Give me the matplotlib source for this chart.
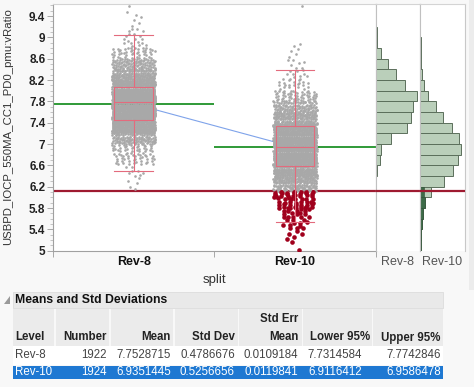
import numpy as np
import matplotlib
matplotlib.use('Agg')
import matplotlib.pyplot as plt
from matplotlib.patches import Rectangle, Polygon
from matplotlib.ticker import MultipleLocator

plt.rcParams['font.family'] = ['Liberation Sans', 'DejaVu Sans']

# ---------------- data ----------------
groups = ['Rev-8', 'Rev-10']
bin_lo = [5.0, 5.2, 5.4, 5.6, 5.8, 6.0, 6.2, 6.4, 6.6, 6.8, 7.0, 7.2,
          7.4, 7.6, 7.8, 8.0, 8.2, 8.4, 8.6, 8.8, 9.0, 9.2, 9.4]
bin_w = 0.2
rev8_counts = [0, 0, 0, 0, 0, 1, 4, 8, 33, 44, 120, 246,
               281, 295, 325, 232, 164, 96, 44, 14, 8, 4, 3]
rev10_counts = [2, 5, 12, 19, 30, 76, 161, 226, 260, 279, 267, 221,
                157, 106, 53, 23, 12, 7, 4, 2, 0, 0, 1]
rev10_selected = [2, 5, 12, 19, 30, 23, 0, 0, 0, 0, 0, 0,
                  0, 0, 0, 0, 0, 0, 0, 0, 0, 0, 0]
rev8_selected = [0] * len(bin_lo)

spec_limit = 6.11
means = [7.7528715, 6.9351445]
box_q1 = [7.45, 6.59]
box_med = [7.78, 6.95]
box_q3 = [8.07, 7.33]
box_whislo = [6.49, 5.54]
box_whishi = [9.05, 8.39]

yticks = [5, 5.4, 5.8, 6.2, 6.6, 7, 7.4, 7.8, 8.2, 8.6, 9, 9.4]
ytick_labels = ['5', '5.4', '5.8', '6.2', '6.6', '7', '7.4', '7.8', '8.2', '8.6', '9', '9.4']
ylabel = 'USBPD_IOCP_550MA_CC1_PD0_pmu:vRatio'

tbl_title = 'Means and Std Deviations'
tbl_levels = ['Rev-8', 'Rev-10']
tbl_number = ['1922', '1924']
tbl_mean = ['7.7528715', '6.9351445']
tbl_std = ['0.4786676', '0.5256656']
tbl_sem = ['0.0109184', '0.0119841']
tbl_low = ['7.7314584', '6.9116412']
tbl_up = ['7.7742846', '6.9586478']

# ---------------- figure ----------------
W, H = 474, 387
fig = plt.figure(figsize=(W / 100, H / 100), dpi=100, facecolor='#f8f8f8')


def px_axes(x0, y0, x1, y1, **kw):
    return fig.add_axes([x0 / W, 1 - y1 / H, (x1 - x0) / W, (y1 - y0) / H], **kw)


# overlay for decorations / table (pixel coordinates)
tb = fig.add_axes([0, 0, 1, 1], zorder=0)
tb.set_xlim(0, W)
tb.set_ylim(H, 0)
tb.axis('off')
tb.patch.set_alpha(0)
tb.add_patch(Rectangle((469, 0), 5, 290, fc='#ececec', ec='none'))

TOP, BOT = 4, 250.7
X0, X1, X2, X3 = 53, 375.7, 420.3, 464.6
ax = px_axes(X0, TOP, X1, BOT, zorder=2)
h1 = px_axes(X1, TOP, X2, BOT, zorder=2)
h2 = px_axes(X2, TOP, X3, BOT, zorder=2)
YMIN, YMAX = 5, 9.625

# ---- main plot ----
ax.set_xlim(-0.5, 1.5)
ax.set_ylim(YMIN, YMAX)
ax.set_facecolor('white')

grey_pt = '#a8a8a8'
red_pt = '#a0001c'
phi1, phi2 = 0.7548776662, 0.5698402910
for gi, (counts, sel) in enumerate([(rev8_counts, rev8_selected), (rev10_counts, rev10_selected)]):
    xs, ys = [], []
    k = 0
    for bi, (lo, c, s) in enumerate(zip(bin_lo, counts, sel)):
        if 0 < s < c:
            segs = [(lo, spec_limit, s), (spec_limit, lo + bin_w, c - s)]
        else:
            segs = [(lo, lo + bin_w, c)]
        width = 0.135 * min(1.0, 0.3 + c / 50.0)
        for a, b, n in segs:
            for j in range(n):
                k += 1
                u = (k * phi1 + 0.31 * gi) % 1.0
                v = (k * phi2 + 0.17 * gi) % 1.0
                # values recorded with limited resolution
                ys.append(round((a + (b - a) * u) / 0.02) * 0.02)
                xs.append(gi + (v - 0.5) * 2 * width)
    xs = np.array(xs)
    ys = np.array(ys)
    low = ys < spec_limit
    ax.scatter(xs[~low], ys[~low], s=3.6, c=grey_pt, linewidths=0, zorder=3)
    ax.scatter(xs[low], ys[low], s=11, c=red_pt, linewidths=0, zorder=3.5)

# mean lines
for gi, m in enumerate(means):
    ax.hlines(m, gi - 0.5, gi + 0.5, colors='#2f9a37', lw=1.4, zorder=2)
ax.plot([0, 1], means, color='#7fa3ea', lw=0.8, zorder=2.2)

# box plots
stats = []
for gi in range(2):
    stats.append(dict(q1=box_q1[gi], med=box_med[gi], q3=box_q3[gi],
                      whislo=box_whislo[gi], whishi=box_whishi[gi], fliers=[]))
bc = '#e36b7d'
ax.bxp(stats, positions=[0, 1], widths=0.24, capwidths=0.24, showfliers=False,
       boxprops=dict(color=bc, lw=0.8), whiskerprops=dict(color=bc, lw=0.8),
       capprops=dict(color=bc, lw=0.8), medianprops=dict(color=bc, lw=0.8),
       manage_ticks=False, zorder=4)

ax.axhline(spec_limit, color='#9e1a30', lw=1.6, zorder=1.5)

ax.set_yticks(yticks)
ax.set_yticklabels(ytick_labels, fontsize=8.5, fontweight='bold', color='#222222')
ax.yaxis.set_minor_locator(MultipleLocator(0.1))
ax.tick_params(axis='y', which='major', length=4, width=0.6, color='#9a9a9a', pad=1.5)
ax.tick_params(axis='y', which='minor', length=2, width=0.5, color='#b0b0b0')
ax.set_xticks([0, 1])
ax.set_xticklabels(groups, fontsize=9, fontweight='bold', color='#111111')
ax.set_xticks([-0.5, 0.5, 1.5], minor=True)
ax.tick_params(axis='x', which='major', length=0, pad=4)
ax.tick_params(axis='x', which='minor', length=4, width=0.6, color='#9a9a9a')
ax.set_xlabel('split', fontsize=9.5, color='#333333', labelpad=4)
for sp in ['left', 'bottom']:
    ax.spines[sp].set_color('#a0a0a0')
    ax.spines[sp].set_linewidth(0.8)
ax.spines['top'].set_color('#d4d4d4')
ax.spines['right'].set_color('#c0c0c0')

# y label placed in pixel coordinates
tb.text(8.5, 126.5, ylabel, rotation=90, fontsize=8.2, color='#333333',
        ha='center', va='center')

# ---- histograms ----
hist_face = '#bacfba'
hist_edge = '#5b6f5b'
sel_face = '#3d6b48'
for hax, counts, sel, lab in [(h1, rev8_counts, rev8_selected, groups[0]),
                              (h2, rev10_counts, rev10_selected, groups[1])]:
    centers = [b + bin_w / 2 for b in bin_lo]
    hax.barh(centers, counts, height=bin_w, color=hist_face, edgecolor=hist_edge, lw=0.7, zorder=2)
    hax.barh(centers, sel, height=bin_w, color=sel_face, edgecolor='#2f4f36', lw=0.4, zorder=2.5)
    hax.set_xlim(0, max(counts) / 0.915)
    hax.set_ylim(YMIN, YMAX)
    hax.axhline(spec_limit, color='#9e1a30', lw=1.6, zorder=3)
    hax.set_xticks([])
    hax.set_yticks([])
    hax.set_facecolor('white')
    hax.spines['top'].set_color('#d4d4d4')
    hax.spines['left'].set_color('#c0c0c0')
    hax.spines['right'].set_color('#c8c8c8')
    hax.spines['bottom'].set_visible(False)
    hax.set_xlabel(lab, fontsize=9, color='#555555', labelpad=4)

# ---------------- table ----------------
tb.add_patch(Polygon([[10.5, 296], [10.5, 303.5], [4, 303.5]], closed=True, fc='#9a9a9a', ec='none'))
tb.add_patch(Rectangle((12.7, 291.7), 430.3, 16.3, fc='#e9e9e9', ec='#dcdcdc', lw=0.6))
tb.text(15.5, 300, tbl_title, fontsize=8.8, fontweight='bold', color='#111111', va='center', ha='left')

cols = [(12.7, 54), (55.7, 109.5), (111, 173.5), (175, 238), (239.5, 302), (303.5, 372), (373.5, 443)]
for (a, b) in cols:
    tb.add_patch(Rectangle((a, 309), b - a, 36.5, fc='#ebebeb', ec='none'))
tb.add_patch(Rectangle((12.7, 345.5), 430.3, 19.5, fc='white', ec='none'))
tb.add_patch(Rectangle((12.7, 365.5), 430.3, 13, fc='#1e78d2', ec='none'))

hdr_y = 337.5
hdr_kw = dict(fontsize=8.3, fontweight='bold', color='#222222', va='center')
tb.text(15, hdr_y, 'Level', ha='left', **hdr_kw)
hdr_right = [106.7, 170.3, 235, 298.3, 370, 440.7]
hdr_names = ['Number', 'Mean', 'Std Dev', 'Mean', 'Lower 95%', 'Upper 95%']
for xr, nm in zip(hdr_right, hdr_names):
    tb.text(xr, hdr_y, nm, ha='right', **hdr_kw)
tb.text(298.3, 319.5, 'Std Err', ha='right', **hdr_kw)

val_right = [106.7, 170.7, 235, 298.3, 361.7, 440.7]
row_y = [355, 371.8]
row_col = ['#444444', 'white']
for ri in range(2):
    kw = dict(fontsize=8.3, color=row_col[ri], va='center')
    tb.text(15, row_y[ri], tbl_levels[ri], ha='left', **kw)
    vals = [tbl_number[ri], tbl_mean[ri], tbl_std[ri], tbl_sem[ri], tbl_low[ri], tbl_up[ri]]
    for xr, v in zip(val_right, vals):
        tb.text(xr, row_y[ri], v, ha='right', **kw)

fig.savefig('out.png', dpi=100, facecolor=fig.get_facecolor())
